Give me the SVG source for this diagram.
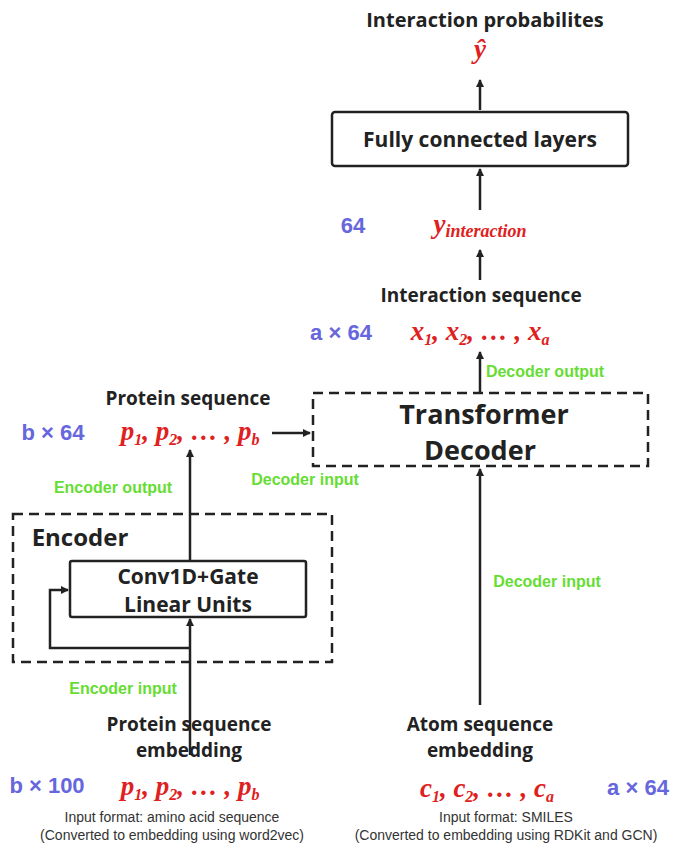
<svg xmlns="http://www.w3.org/2000/svg" width="683" height="856" viewBox="0 0 683 856">
<style>
.b{font-family:"Open Sans","Liberation Sans",sans-serif;font-weight:bold;fill:#222;text-anchor:middle}
.g{font-family:"Liberation Sans",sans-serif;font-weight:bold;fill:#66dd33;font-size:16px;text-anchor:middle}
.bl{font-family:"Liberation Sans",sans-serif;font-weight:bold;fill:#6666dd;font-size:22px;text-anchor:middle}
.r{font-family:"Liberation Serif",serif;font-weight:bold;font-style:italic;fill:#e02020;font-size:27px;text-anchor:middle}
.s{font-family:"Liberation Sans Narrow","Liberation Sans",sans-serif;fill:#333;font-size:14px;text-anchor:middle}
.ln{stroke:#222;stroke-width:2.5;fill:none}
.box{fill:#fff;stroke:#222;stroke-width:2.5}
.dash{fill:none;stroke:#222;stroke-width:2.5;stroke-dasharray:10,6}
</style>
<defs><marker id="a" markerWidth="8" markerHeight="8" refX="7" refY="4" orient="auto" markerUnits="userSpaceOnUse"><path d="M0,0 L8,4 L0,8 z" fill="#222"/></marker></defs>
<rect width="683" height="856" fill="#fff"/>
<g id="connectors">
<path class="ln" d="M190,755 V619" marker-end="url(#a)"/>
<path class="ln" d="M190,648 H50 V590 H68" marker-end="url(#a)"/>
<path class="ln" d="M190,561 V450" marker-end="url(#a)"/>
<path class="ln" d="M272,433 H310" marker-end="url(#a)"/>
<path class="ln" d="M480,705 V469" marker-end="url(#a)"/>
<path class="ln" d="M480,393 V352" marker-end="url(#a)"/>
<path class="ln" d="M480,280 V250" marker-end="url(#a)"/>
<path class="ln" d="M480,210 V169" marker-end="url(#a)"/>
<path class="ln" d="M480,110 V80" marker-end="url(#a)"/>
</g>
<g id="title"><text class="b" x="485" y="27" font-size="20">Interaction probabilites</text><text class="r" x="480" y="58" font-size="22">ŷ</text></g>
<g id="fc"><rect class="box" x="332" y="112" width="296" height="54" rx="3"/><text class="b" x="480" y="147" font-size="21">Fully connected layers</text></g>
<g id="yint"><text class="bl" x="353" y="233">64</text><text class="r" x="480" y="233">y<tspan font-size="18" dy="4">interaction</tspan></text></g>
<g id="interaction"><text class="b" x="481" y="302" font-size="19">Interaction sequence</text><text class="bl" x="341" y="340">a × 64</text><text class="r" x="480" y="340">x<tspan font-size="16" dy="5">1</tspan><tspan dy="-5">, x</tspan><tspan font-size="16" dy="5">2</tspan><tspan dy="-5">, … , x</tspan><tspan font-size="16" dy="5">a</tspan></text></g>
<g id="decoder"><rect class="dash" x="313" y="393" width="335" height="73"/><text class="b" x="484" y="424" font-size="27">Transformer</text><text class="b" x="480" y="460" font-size="27">Decoder</text>
<text class="g" x="545" y="377">Decoder output</text><text class="g" x="305" y="485">Decoder input</text><text class="g" x="547" y="587">Decoder input</text></g>
<g id="protein"><text class="b" x="188" y="405" font-size="19">Protein sequence</text><text class="bl" x="53" y="440">b × 64</text><text class="r" x="190" y="440">p<tspan font-size="16" dy="5">1</tspan><tspan dy="-5">, p</tspan><tspan font-size="16" dy="5">2</tspan><tspan dy="-5">, … , p</tspan><tspan font-size="16" dy="5">b</tspan></text>
<text class="g" x="113" y="493">Encoder output</text></g>
<g id="encoder"><rect class="dash" x="13" y="514" width="319" height="148"/><text class="b" x="80" y="546" font-size="24">Encoder</text>
<rect class="box" x="70" y="561" width="236" height="56" rx="2"/><text class="b" x="188" y="584" font-size="21">Conv1D+Gate</text><text class="b" x="188" y="612" font-size="21">Linear Units</text>
<text class="g" x="123" y="694">Encoder input</text></g>
<g id="pemb"><text class="b" x="189" y="731" font-size="19">Protein sequence</text><text class="b" x="189" y="757" font-size="19">embedding</text>
<text class="bl" x="47" y="793">b × 100</text><text class="r" x="190" y="795">p<tspan font-size="16" dy="5">1</tspan><tspan dy="-5">, p</tspan><tspan font-size="16" dy="5">2</tspan><tspan dy="-5">, … , p</tspan><tspan font-size="16" dy="5">b</tspan></text>
<text class="s" x="172" y="822">Input format: amino acid sequence</text><text class="s" x="172" y="840">(Converted to embedding using word2vec)</text></g>
<g id="aemb"><text class="b" x="480" y="731" font-size="19">Atom sequence</text><text class="b" x="480" y="757" font-size="19">embedding</text>
<text class="r" x="487" y="797">c<tspan font-size="16" dy="5">1</tspan><tspan dy="-5">, c</tspan><tspan font-size="16" dy="5">2</tspan><tspan dy="-5">, … , c</tspan><tspan font-size="16" dy="5">a</tspan></text><text class="bl" x="638" y="795">a × 64</text>
<text class="s" x="506" y="822">Input format: SMILES</text><text class="s" x="506" y="840">(Converted to embedding using RDKit and GCN)</text></g>
</svg>
